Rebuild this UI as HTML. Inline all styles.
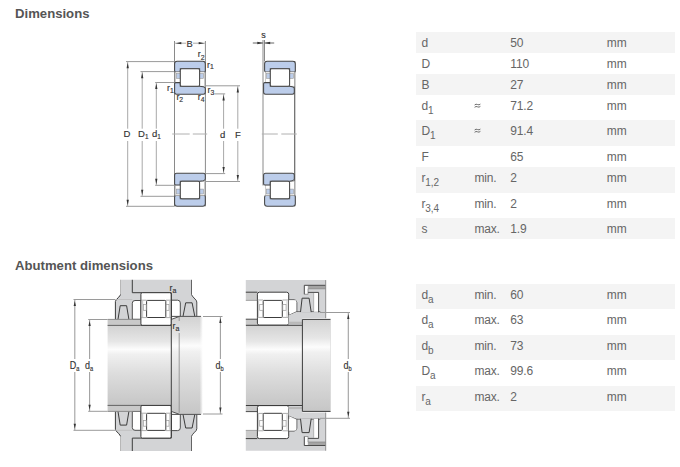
<!DOCTYPE html>
<html><head><meta charset="utf-8">
<style>
html,body{margin:0;padding:0;background:#fff;}
body{width:680px;height:467px;position:relative;overflow:hidden;font-family:"Liberation Sans",sans-serif;}
h2{position:absolute;margin:0;font-size:13.15px;font-weight:bold;color:#555;line-height:15px;}
.tbl{position:absolute;left:416px;width:259px;}
.r{position:absolute;left:0;width:259px;font-size:12px;color:#666;letter-spacing:-0.15px;}
.r.s{background:#f4f4f4;}
.r span{position:absolute;white-space:nowrap;}
.c1{left:5.5px}.c2{left:58.4px}.c3{left:94.3px}.c4{left:190.8px}
sub{font-size:10px;vertical-align:baseline;position:relative;top:3.5px;}
svg.main{position:absolute;left:0;top:0;}
.apx{position:absolute;left:0;top:7.6px;}
</style></head><body>
<h2 style="left:15px;top:5.6px">Dimensions</h2>
<h2 style="left:15px;top:257.6px">Abutment dimensions</h2>

<div class="tbl" style="top:32px">
 <div class="r s" style="top:0;height:21px;line-height:23px"><span class="c1">d</span><span class="c3">50</span><span class="c4">mm</span></div>
 <div class="r" style="top:21px;height:21px;line-height:23px"><span class="c1">D</span><span class="c3">110</span><span class="c4">mm</span></div>
 <div class="r s" style="top:42px;height:21px;line-height:23px"><span class="c1">B</span><span class="c3">27</span><span class="c4">mm</span></div>
 <div class="r" style="top:63px;height:25px;line-height:23px"><span class="c1">d<sub>1</sub></span><span class="c2"><svg class="apx" width="7" height="6" viewBox="0 0 7 6"><path d="M0.6,2 Q2,0.6 3.5,1.5 T6.4,1.1 M0.6,4.3 Q2,2.9 3.5,3.8 T6.4,3.4" fill="none" stroke="#666" stroke-width="0.95"/></svg></span><span class="c3">71.2</span><span class="c4">mm</span></div>
 <div class="r s" style="top:88px;height:26px;line-height:23px"><span class="c1">D<sub>1</sub></span><span class="c2"><svg class="apx" width="7" height="6" viewBox="0 0 7 6"><path d="M0.6,2 Q2,0.6 3.5,1.5 T6.4,1.1 M0.6,4.3 Q2,2.9 3.5,3.8 T6.4,3.4" fill="none" stroke="#666" stroke-width="0.95"/></svg></span><span class="c3">91.4</span><span class="c4">mm</span></div>
 <div class="r" style="top:114px;height:21px;line-height:23px"><span class="c1">F</span><span class="c3">65</span><span class="c4">mm</span></div>
 <div class="r s" style="top:135px;height:26px;line-height:23px"><span class="c1">r<sub>1,2</sub></span><span class="c2">min.</span><span class="c3">2</span><span class="c4">mm</span></div>
 <div class="r" style="top:161px;height:25px;line-height:23px"><span class="c1">r<sub>3,4</sub></span><span class="c2">min.</span><span class="c3">2</span><span class="c4">mm</span></div>
 <div class="r s" style="top:186px;height:21px;line-height:23px"><span class="c1">s</span><span class="c2">max.</span><span class="c3">1.9</span><span class="c4">mm</span></div>
</div>

<div class="tbl" style="top:284px">
 <div class="r s" style="top:0;height:25px;line-height:23px"><span class="c1">d<sub>a</sub></span><span class="c2">min.</span><span class="c3">60</span><span class="c4">mm</span></div>
 <div class="r" style="top:25px;height:26px;line-height:23px"><span class="c1">d<sub>a</sub></span><span class="c2">max.</span><span class="c3">63</span><span class="c4">mm</span></div>
 <div class="r s" style="top:51px;height:25px;line-height:23px"><span class="c1">d<sub>b</sub></span><span class="c2">min.</span><span class="c3">73</span><span class="c4">mm</span></div>
 <div class="r" style="top:76px;height:26px;line-height:23px"><span class="c1">D<sub>a</sub></span><span class="c2">max.</span><span class="c3">99.6</span><span class="c4">mm</span></div>
 <div class="r s" style="top:102px;height:25px;line-height:23px"><span class="c1">r<sub>a</sub></span><span class="c2">max.</span><span class="c3">2</span><span class="c4">mm</span></div>
</div>

<svg class="main" width="680" height="467" viewBox="0 0 680 467" font-family="Liberation Sans, sans-serif">
<line x1="174.5" y1="41" x2="174.5" y2="206.3" stroke="#8a8a8a" stroke-width="1" />
<line x1="205.4" y1="41" x2="205.4" y2="206.3" stroke="#8a8a8a" stroke-width="1" />
<line x1="263" y1="40" x2="263" y2="185.5" stroke="#8a8a8a" stroke-width="1" />
<line x1="294.7" y1="61" x2="294.7" y2="206.3" stroke="#666" stroke-width="1.2" />
<line x1="264.5" y1="40" x2="264.5" y2="61.3" stroke="#8a8a8a" stroke-width="1" />
<line x1="172.2" y1="134" x2="189.7" y2="134" stroke="#b0b0b0" stroke-width="1" />
<line x1="192.8" y1="134" x2="207.2" y2="134" stroke="#b0b0b0" stroke-width="1" />
<line x1="261.8" y1="134" x2="277.8" y2="134" stroke="#b0b0b0" stroke-width="1" />
<line x1="281.3" y1="134" x2="296.8" y2="134" stroke="#b0b0b0" stroke-width="1" />
<line x1="174.5" y1="43.2" x2="186" y2="43.2" stroke="#aaa" stroke-width="1" />
<line x1="193" y1="43.2" x2="205.4" y2="43.2" stroke="#aaa" stroke-width="1" />
<polygon points="175.8,43.2 181.3,42.05 181.3,44.35" fill="#333"/>
<polygon points="204.2,43.2 198.7,42.05 198.7,44.35" fill="#333"/>
<text x="189.6" y="46.6" font-size="9.3" fill="#333" stroke="#333" stroke-width="0.15" text-anchor="middle">B</text>
<line x1="252.8" y1="43" x2="263" y2="43" stroke="#666" stroke-width="1" />
<line x1="264.5" y1="43" x2="274.2" y2="43" stroke="#666" stroke-width="1" />
<polygon points="262.8,43 257.3,41.85 257.3,44.15" fill="#333"/>
<polygon points="264.7,43 270.2,41.85 270.2,44.15" fill="#333"/>
<text x="263.5" y="37.5" font-size="9" fill="#333" stroke="#333" stroke-width="0.15" text-anchor="middle">s</text>
<line x1="126" y1="61.6" x2="174.5" y2="61.6" stroke="#9a9a9a" stroke-width="1" />
<line x1="126" y1="206.3" x2="174.5" y2="206.3" stroke="#9a9a9a" stroke-width="1" />
<line x1="127.7" y1="61.6" x2="127.7" y2="128.7" stroke="#a8a8a8" stroke-width="1" />
<line x1="127.7" y1="141" x2="127.7" y2="206.3" stroke="#a8a8a8" stroke-width="1" />
<polygon points="127.7,62.7 126.55,68.2 128.85,68.2" fill="#333"/>
<polygon points="127.7,205.2 126.55,199.7 128.85,199.7" fill="#333"/>
<line x1="140.5" y1="71.6" x2="174.5" y2="71.6" stroke="#9a9a9a" stroke-width="1" />
<line x1="140.5" y1="196.3" x2="174.5" y2="196.3" stroke="#9a9a9a" stroke-width="1" />
<line x1="142.2" y1="71.6" x2="142.2" y2="128.7" stroke="#a8a8a8" stroke-width="1" />
<line x1="142.2" y1="141" x2="142.2" y2="196.3" stroke="#a8a8a8" stroke-width="1" />
<polygon points="142.2,72.7 141.05,78.2 143.35,78.2" fill="#333"/>
<polygon points="142.2,195.2 141.05,189.7 143.35,189.7" fill="#333"/>
<line x1="155.2" y1="82.5" x2="174.5" y2="82.5" stroke="#9a9a9a" stroke-width="1" />
<line x1="155.2" y1="185.3" x2="174.5" y2="185.3" stroke="#9a9a9a" stroke-width="1" />
<line x1="156.3" y1="82.5" x2="156.3" y2="128.7" stroke="#a8a8a8" stroke-width="1" />
<line x1="156.3" y1="141" x2="156.3" y2="185.3" stroke="#a8a8a8" stroke-width="1" />
<polygon points="156.3,83.6 155.15,89.1 157.45,89.1" fill="#333"/>
<polygon points="156.3,184.2 155.15,178.7 157.45,178.7" fill="#333"/>
<text x="123.6" y="137.1" font-size="9.5" fill="#333" stroke="#333" stroke-width="0.15" text-anchor="start">D</text>
<text x="138" y="137.1" font-size="9.5" fill="#333" stroke="#333" stroke-width="0.15">D<tspan font-size="6.4" dy="1.9">1</tspan></text>
<text x="152" y="137.1" font-size="9.5" fill="#333" stroke="#333" stroke-width="0.15">d<tspan font-size="6.4" dy="1.9">1</tspan></text>
<line x1="214.5" y1="93.9" x2="225.2" y2="93.9" stroke="#9a9a9a" stroke-width="1" />
<line x1="205.4" y1="173.6" x2="225.2" y2="173.6" stroke="#9a9a9a" stroke-width="1" />
<line x1="223.6" y1="93.9" x2="223.6" y2="128.7" stroke="#a8a8a8" stroke-width="1" />
<line x1="223.6" y1="141" x2="223.6" y2="173.6" stroke="#a8a8a8" stroke-width="1" />
<polygon points="223.6,95 222.45,100.5 224.75,100.5" fill="#333"/>
<polygon points="223.6,172.5 222.45,167 224.75,167" fill="#333"/>
<line x1="205.4" y1="85.8" x2="240" y2="85.8" stroke="#9a9a9a" stroke-width="1" />
<line x1="205.4" y1="181.5" x2="240" y2="181.5" stroke="#9a9a9a" stroke-width="1" />
<line x1="237.8" y1="85.8" x2="237.8" y2="128.7" stroke="#a8a8a8" stroke-width="1" />
<line x1="237.8" y1="141" x2="237.8" y2="181.5" stroke="#a8a8a8" stroke-width="1" />
<polygon points="237.8,86.9 236.65,92.4 238.95,92.4" fill="#333"/>
<polygon points="237.8,180.4 236.65,174.9 238.95,174.9" fill="#333"/>
<text x="219.9" y="137.9" font-size="9.5" fill="#333" stroke="#333" stroke-width="0.15" text-anchor="start">d</text>
<text x="234.9" y="137.9" font-size="9.5" fill="#333" stroke="#333" stroke-width="0.15" text-anchor="start">F</text>
<g><path d="M174.6,63.8 Q174.6,61.3 177.1,61.3 L202.8,61.3 Q205.3,61.3 205.3,63.8 L205.3,71 Q205.3,72 204.3,72 L199.6,72 L199.6,68.7 L180.3,68.7 L180.3,72 L176.1,72 Q174.6,72 174.6,70.5 Z" fill="#bccdea" stroke="#464646" stroke-width="1.05"/>
<rect x="175.5" y="72" width="4.8" height="10.6" fill="#fff" stroke="#aaa" stroke-width="0.6"/>
<rect x="199.6" y="72" width="4.8" height="14.2" fill="#fff" stroke="#aaa" stroke-width="0.6"/>
<rect x="176.5" y="73.5" width="3.8" height="4.9" fill="#bccdea" stroke="#999" stroke-width="0.6"/>
<rect x="199.6" y="73.5" width="3.8" height="4.9" fill="#bccdea" stroke="#999" stroke-width="0.6"/>
<path d="M174.6,83.8 Q174.6,82.6 175.8,82.6 L180.3,82.6 L180.3,86.2 L199.6,86.2 L203.3,86.8 Q205.3,87.2 205.3,88.4 L205.3,92.2 Q205.3,94.2 203.3,94.2 L176.6,94.2 Q174.6,94.2 174.6,92.2 Z" fill="#bccdea" stroke="#464646" stroke-width="1.05"/>
<rect x="180.3" y="68.7" width="19.3" height="17.5" rx="1.5" fill="#fff" stroke="#464646" stroke-width="1.05"/></g>
<g transform="matrix(1,0,0,-1,0,267.5)"><path d="M174.6,63.8 Q174.6,61.3 177.1,61.3 L202.8,61.3 Q205.3,61.3 205.3,63.8 L205.3,71 Q205.3,72 204.3,72 L199.6,72 L199.6,68.7 L180.3,68.7 L180.3,72 L176.1,72 Q174.6,72 174.6,70.5 Z" fill="#bccdea" stroke="#464646" stroke-width="1.05"/>
<rect x="175.5" y="72" width="4.8" height="10.6" fill="#fff" stroke="#aaa" stroke-width="0.6"/>
<rect x="199.6" y="72" width="4.8" height="14.2" fill="#fff" stroke="#aaa" stroke-width="0.6"/>
<rect x="176.5" y="73.5" width="3.8" height="4.9" fill="#bccdea" stroke="#999" stroke-width="0.6"/>
<rect x="199.6" y="73.5" width="3.8" height="4.9" fill="#bccdea" stroke="#999" stroke-width="0.6"/>
<path d="M174.6,83.8 Q174.6,82.6 175.8,82.6 L180.3,82.6 L180.3,86.2 L199.6,86.2 L203.3,86.8 Q205.3,87.2 205.3,88.4 L205.3,92.2 Q205.3,94.2 203.3,94.2 L176.6,94.2 Q174.6,94.2 174.6,92.2 Z" fill="#bccdea" stroke="#464646" stroke-width="1.05"/>
<rect x="180.3" y="68.7" width="19.3" height="17.5" rx="1.5" fill="#fff" stroke="#464646" stroke-width="1.05"/></g>
<g><path d="M264.6,63.8 Q264.6,61.3 267.1,61.3 L292.8,61.3 Q295.3,61.3 295.3,63.8 L295.3,71 Q295.3,72 294.3,72 L289.6,72 L289.6,68.7 L270.3,68.7 L270.3,72 L266.1,72 Q264.6,72 264.6,70.5 Z" fill="#bccdea" stroke="#464646" stroke-width="1.05"/>
<rect x="265.5" y="72" width="4.8" height="10.6" fill="#fff" stroke="#aaa" stroke-width="0.6"/>
<rect x="289.6" y="72" width="4.8" height="14.2" fill="#fff" stroke="#aaa" stroke-width="0.6"/>
<rect x="266.5" y="73.5" width="3.8" height="4.9" fill="#bccdea" stroke="#999" stroke-width="0.6"/>
<rect x="289.6" y="73.5" width="3.8" height="4.9" fill="#bccdea" stroke="#999" stroke-width="0.6"/>
<path d="M263.6,83.8 Q263.6,82.6 264.8,82.6 L270.3,82.6 L270.3,86.2 L289.6,86.2 L292.3,86.8 Q294.3,87.2 294.3,88.4 L294.3,92.2 Q294.3,94.2 292.3,94.2 L265.6,94.2 Q263.6,94.2 263.6,92.2 Z" fill="#bccdea" stroke="#464646" stroke-width="1.05"/>
<rect x="270.3" y="68.7" width="19.3" height="17.5" rx="1.5" fill="#fff" stroke="#464646" stroke-width="1.05"/></g>
<g transform="matrix(1,0,0,-1,0,267.5)"><path d="M264.6,63.8 Q264.6,61.3 267.1,61.3 L292.8,61.3 Q295.3,61.3 295.3,63.8 L295.3,71 Q295.3,72 294.3,72 L289.6,72 L289.6,68.7 L270.3,68.7 L270.3,72 L266.1,72 Q264.6,72 264.6,70.5 Z" fill="#bccdea" stroke="#464646" stroke-width="1.05"/>
<rect x="265.5" y="72" width="4.8" height="10.6" fill="#fff" stroke="#aaa" stroke-width="0.6"/>
<rect x="289.6" y="72" width="4.8" height="14.2" fill="#fff" stroke="#aaa" stroke-width="0.6"/>
<rect x="266.5" y="73.5" width="3.8" height="4.9" fill="#bccdea" stroke="#999" stroke-width="0.6"/>
<rect x="289.6" y="73.5" width="3.8" height="4.9" fill="#bccdea" stroke="#999" stroke-width="0.6"/>
<path d="M263.6,83.8 Q263.6,82.6 264.8,82.6 L270.3,82.6 L270.3,86.2 L289.6,86.2 L292.3,86.8 Q294.3,87.2 294.3,88.4 L294.3,92.2 Q294.3,94.2 292.3,94.2 L265.6,94.2 Q263.6,94.2 263.6,92.2 Z" fill="#bccdea" stroke="#464646" stroke-width="1.05"/>
<rect x="270.3" y="68.7" width="19.3" height="17.5" rx="1.5" fill="#fff" stroke="#464646" stroke-width="1.05"/></g>
<text x="197.8" y="57" font-size="8.8" fill="#333" stroke="#333" stroke-width="0.15">r<tspan font-size="6.8" dy="2.6">2</tspan></text>
<text x="207" y="67.5" font-size="8.8" fill="#333" stroke="#333" stroke-width="0.15">r<tspan font-size="6.8" dy="1.6">1</tspan></text>
<text x="167" y="90.6" font-size="8.8" fill="#333" stroke="#333" stroke-width="0.15">r<tspan font-size="6.8" dy="2.3">1</tspan></text>
<text x="176.4" y="99.8" font-size="8.8" fill="#333" stroke="#333" stroke-width="0.15">r<tspan font-size="6.8" dy="2.4">2</tspan></text>
<text x="197.8" y="99.8" font-size="8.8" fill="#333" stroke="#333" stroke-width="0.15">r<tspan font-size="6.8" dy="2.4">4</tspan></text>
<text x="207.5" y="93" font-size="8.8" fill="#333" stroke="#333" stroke-width="0.15">r<tspan font-size="6.8" dy="1.9">3</tspan></text>
<g>
<polygon points="120.5,279.8 191.5,279.8 191.5,294.5 196.8,300.4 196.8,316.4 171.3,316.4 171.3,292.7 140.9,292.7 140.9,319.3 115.4,319.3 115.4,300.3 120.5,294.5" fill="#d3d4d6" stroke="none" stroke-width="1"/>
<line x1="120.5" y1="279.8" x2="120.5" y2="294.5" stroke="#aaa" stroke-width="0.8"/>
<line x1="191.5" y1="279.8" x2="191.5" y2="294.5" stroke="#555" stroke-width="0.9"/>
<path d="M120.5,294.5 Q120.3,295.6 118.5,297.4 Q115.4,300.3 115.4,301.5 L115.4,319.3" fill="none" stroke="#3c3c3c" stroke-width="1" />
<path d="M191.5,294.5 Q192,296 194,298 Q196.8,300.4 196.8,302 L196.8,316.4" fill="none" stroke="#3c3c3c" stroke-width="0.9" />
<path d="M132.3,279.8 L132.3,292.7 L171.3,292.7" fill="none" stroke="#3c3c3c" stroke-width="1" />
<path d="M140.9,300.5 L135,300.5 Q132.3,300.5 132.3,303.2 L132.3,319.3 L140.9,319.3 Z" fill="#fff" stroke="#3c3c3c" stroke-width="0.9" />
<path d="M171.3,300.2 L177.6,300.2 Q180.3,300.2 180.3,302.9 L180.3,316.4 L171.3,316.4 Z" fill="#fff" stroke="#3c3c3c" stroke-width="0.9" />
<path d="M118,319.3 L120.2,305.7 L126.6,305.7 L128.9,319.3" fill="#d3d4d6" stroke="#3c3c3c" stroke-width="1" />
<path d="M183,316.4 L185.7,302.8 L192.1,302.8 L194.8,316.4" fill="#d3d4d6" stroke="#3c3c3c" stroke-width="1" />
<rect x="107.6" y="319.4" width="33.3" height="6" fill="#c9c9c9"/>
<line x1="107.6" y1="319.4" x2="140.9" y2="319.4" stroke="#777" stroke-width="0.8"/>
<rect x="140.9" y="292.7" width="30.4" height="32.7" rx="1.5" fill="#fff" stroke="#3c3c3c" stroke-width="1"/>
<rect x="146.6" y="300.4" width="19.2" height="17.1" rx="0.9" fill="#fff" stroke="#3c3c3c" stroke-width="1"/>
<line x1="140.9" y1="300.2" x2="146.6" y2="300.2" stroke="#888" stroke-width="0.7"/>
<line x1="166" y1="300.2" x2="171.3" y2="300.2" stroke="#888" stroke-width="0.7"/>
<line x1="140.9" y1="317.6" x2="146.6" y2="317.6" stroke="#888" stroke-width="0.7"/>
<line x1="166" y1="317.6" x2="171.3" y2="317.6" stroke="#888" stroke-width="0.7"/>
<rect x="143.6" y="304.6" width="2.6" height="5.7" fill="#fff" stroke="#999" stroke-width="0.7"/>
<rect x="166.2" y="304.6" width="2.8" height="5.7" fill="#fff" stroke="#999" stroke-width="0.7"/>
<line x1="142.7" y1="301" x2="142.7" y2="317.6" stroke="#bbb" stroke-width="0.9"/>
<line x1="169.8" y1="301" x2="169.8" y2="317.6" stroke="#bbb" stroke-width="0.9"/>
</g>
<g transform="matrix(1,0,0,-1,0,730.8)"><polygon points="120.5,279.8 191.5,279.8 191.5,294.5 196.8,300.4 196.8,316.4 171.3,316.4 171.3,292.7 140.9,292.7 140.9,319.3 115.4,319.3 115.4,300.3 120.5,294.5" fill="#d3d4d6" stroke="none" stroke-width="1"/>
<line x1="120.5" y1="279.8" x2="120.5" y2="294.5" stroke="#aaa" stroke-width="0.8"/>
<line x1="191.5" y1="279.8" x2="191.5" y2="294.5" stroke="#555" stroke-width="0.9"/>
<path d="M120.5,294.5 Q120.3,295.6 118.5,297.4 Q115.4,300.3 115.4,301.5 L115.4,319.3" fill="none" stroke="#3c3c3c" stroke-width="1" />
<path d="M191.5,294.5 Q192,296 194,298 Q196.8,300.4 196.8,302 L196.8,316.4" fill="none" stroke="#3c3c3c" stroke-width="0.9" />
<path d="M132.3,279.8 L132.3,292.7 L171.3,292.7" fill="none" stroke="#3c3c3c" stroke-width="1" />
<path d="M140.9,300.5 L135,300.5 Q132.3,300.5 132.3,303.2 L132.3,319.3 L140.9,319.3 Z" fill="#fff" stroke="#3c3c3c" stroke-width="0.9" />
<path d="M171.3,300.2 L177.6,300.2 Q180.3,300.2 180.3,302.9 L180.3,316.4 L171.3,316.4 Z" fill="#fff" stroke="#3c3c3c" stroke-width="0.9" />
<path d="M118,319.3 L120.2,305.7 L126.6,305.7 L128.9,319.3" fill="#d3d4d6" stroke="#3c3c3c" stroke-width="1" />
<path d="M183,316.4 L185.7,302.8 L192.1,302.8 L194.8,316.4" fill="#d3d4d6" stroke="#3c3c3c" stroke-width="1" />
<rect x="107.6" y="319.4" width="33.3" height="6" fill="#c9c9c9"/>
<line x1="107.6" y1="319.4" x2="140.9" y2="319.4" stroke="#777" stroke-width="0.8"/>
<rect x="140.9" y="292.7" width="30.4" height="32.7" rx="1.5" fill="#fff" stroke="#3c3c3c" stroke-width="1"/>
<rect x="146.6" y="300.4" width="19.2" height="17.1" rx="0.9" fill="#fff" stroke="#3c3c3c" stroke-width="1"/>
<line x1="140.9" y1="300.2" x2="146.6" y2="300.2" stroke="#888" stroke-width="0.7"/>
<line x1="166" y1="300.2" x2="171.3" y2="300.2" stroke="#888" stroke-width="0.7"/>
<line x1="140.9" y1="317.6" x2="146.6" y2="317.6" stroke="#888" stroke-width="0.7"/>
<line x1="166" y1="317.6" x2="171.3" y2="317.6" stroke="#888" stroke-width="0.7"/>
<rect x="143.6" y="304.6" width="2.6" height="5.7" fill="#fff" stroke="#999" stroke-width="0.7"/>
<rect x="166.2" y="304.6" width="2.8" height="5.7" fill="#fff" stroke="#999" stroke-width="0.7"/>
<line x1="142.7" y1="301" x2="142.7" y2="317.6" stroke="#bbb" stroke-width="0.9"/>
<line x1="169.8" y1="301" x2="169.8" y2="317.6" stroke="#bbb" stroke-width="0.9"/></g>
<defs><linearGradient id="sh" x1="0" y1="0" x2="0" y2="1"><stop offset="0" stop-color="#d2d2d2"/><stop offset="0.2" stop-color="#e6e6e6"/><stop offset="0.3" stop-color="#fcfcfc"/><stop offset="0.36" stop-color="#f0f0f0"/><stop offset="0.6" stop-color="#dddddd"/><stop offset="1" stop-color="#c6c6c6"/></linearGradient><linearGradient id="fadeR" x1="0" y1="0" x2="1" y2="0"><stop offset="0" stop-color="#fff" stop-opacity="0"/><stop offset="1" stop-color="#fff" stop-opacity="1"/></linearGradient></defs>
<rect x="107.6" y="325.4" width="63.7" height="80" fill="url(#sh)"/>
<line x1="140.9" y1="325.4" x2="171.3" y2="325.4" stroke="#3c3c3c" stroke-width="1"/>
<line x1="107.6" y1="325.4" x2="140.9" y2="325.4" stroke="#555" stroke-width="0.9"/>
<line x1="140.9" y1="405.4" x2="171.3" y2="405.4" stroke="#3c3c3c" stroke-width="1"/>
<line x1="107.6" y1="405.4" x2="140.9" y2="405.4" stroke="#555" stroke-width="0.9"/>
<polygon points="171.3,319.4 179.6,316.4 202.6,316.4 202.6,414.4 179.6,414.4 171.3,411.4" fill="url(#sh)"/>
<rect x="199.5" y="316" width="3.6" height="98.8" fill="url(#fadeR)"/>
<path d="M171.3,319.4 L179.6,316.4 L201,316.4" fill="none" stroke="#444" stroke-width="0.9" />
<path d="M171.3,411.4 L179.6,414.4 L201,414.4" fill="none" stroke="#444" stroke-width="0.9" />
<line x1="171.3" y1="292.7" x2="171.3" y2="438.1" stroke="#3c3c3c" stroke-width="1"/>
<line x1="179.2" y1="333" x2="179.2" y2="412.8" stroke="#888" stroke-width="0.8"/>
<line x1="179.2" y1="317" x2="179.2" y2="321" stroke="#888" stroke-width="0.8"/>
<g>
<polygon points="245.8,280.1 325.7,280.1 325.7,318.2 302.1,318.2 302.1,319.4 296.8,319.4 296.8,312.1 288.7,312.1 288.7,292.2 245.8,292.2" fill="#d3d4d6" stroke="none" stroke-width="1"/>
<rect x="245.8" y="292.2" width="11.6" height="8.2" fill="#cbcbcb"/>
<line x1="245.8" y1="292.2" x2="257.4" y2="292.2" stroke="#3c3c3c" stroke-width="1"/>
<line x1="245.8" y1="300.4" x2="257.4" y2="300.4" stroke="#888" stroke-width="0.7"/>
<rect x="245.8" y="319.2" width="11.6" height="6" fill="#c9c9c9"/>
<line x1="245.8" y1="319.2" x2="257.4" y2="319.2" stroke="#3c3c3c" stroke-width="0.9"/>
<rect x="257.4" y="292.2" width="31.3" height="33" rx="2" fill="#fff" stroke="#3c3c3c" stroke-width="1"/>
<rect x="263.2" y="300.4" width="19.1" height="17.1" rx="0.9" fill="#fff" stroke="#3c3c3c" stroke-width="1"/>
<line x1="257.4" y1="300" x2="263.2" y2="300" stroke="#888" stroke-width="0.7"/>
<line x1="282.5" y1="300" x2="288.7" y2="300" stroke="#888" stroke-width="0.7"/>
<line x1="257.4" y1="317.4" x2="263.2" y2="317.4" stroke="#888" stroke-width="0.7"/>
<line x1="282.5" y1="317.4" x2="288.7" y2="317.4" stroke="#888" stroke-width="0.7"/>
<rect x="259.7" y="304.6" width="3.3" height="5.7" fill="#fff" stroke="#999" stroke-width="0.7"/>
<rect x="282.8" y="304.6" width="3.3" height="5.7" fill="#fff" stroke="#999" stroke-width="0.7"/>
<line x1="258.6" y1="301" x2="258.6" y2="317.6" stroke="#c4c4c4" stroke-width="0.9"/>
<line x1="287" y1="301" x2="287" y2="317.6" stroke="#c4c4c4" stroke-width="0.9"/>
<path d="M288.7,299.8 L294,299.8 Q296.8,299.8 296.8,302.6 L296.8,312.1" fill="#fff" stroke="#3c3c3c" stroke-width="0.9" />
<rect x="288.9" y="300.3" width="7.4" height="11.8" fill="#fff"/>
<path d="M288.7,315.3 L296.8,311.6 L320.3,311.6" fill="none" stroke="#555" stroke-width="0.8" />
<path d="M300.5,312.1 L302.1,298.2 L309.1,298.2 L311.2,312.1" fill="#d3d4d6" stroke="#3c3c3c" stroke-width="1" />
<rect x="308.1" y="285.6" width="17.4" height="3.1" fill="#a4a4a4"/>
<rect x="304.8" y="285.8" width="2.8" height="8" fill="#fff"/>
<rect x="313.9" y="292.9" width="4.3" height="18.9" fill="#fff"/>
<path d="M304.3,294.3 L304.3,285.3 L325.5,285.3" fill="none" stroke="#3c3c3c" stroke-width="0.9" />
<path d="M304.3,294.3 L308.1,294.3 L308.1,288.8 L325.5,288.8" fill="none" stroke="#777" stroke-width="0.6" />
<path d="M308.1,292.4 L318.6,292.4 L318.6,312.3" fill="none" stroke="#3c3c3c" stroke-width="0.9" />
<line x1="313.7" y1="293" x2="313.7" y2="311.4" stroke="#999" stroke-width="0.6"/>
<polygon points="288.6,315.3 296.7,312.5 302.3,312.5 302.3,325.1 288.6,325.1" fill="#d3d4d6" stroke="none" stroke-width="1"/>
<rect x="288.6" y="321.7" width="13.7" height="2.2" fill="#b9b9b9"/>
<line x1="325.7" y1="280.1" x2="325.7" y2="318.2" stroke="#777" stroke-width="0.8"/>
</g>
<g transform="matrix(1,0,0,-1,0,730.8)"><polygon points="245.8,280.1 325.7,280.1 325.7,318.2 302.1,318.2 302.1,319.4 296.8,319.4 296.8,312.1 288.7,312.1 288.7,292.2 245.8,292.2" fill="#d3d4d6" stroke="none" stroke-width="1"/>
<rect x="245.8" y="292.2" width="11.6" height="8.2" fill="#cbcbcb"/>
<line x1="245.8" y1="292.2" x2="257.4" y2="292.2" stroke="#3c3c3c" stroke-width="1"/>
<line x1="245.8" y1="300.4" x2="257.4" y2="300.4" stroke="#888" stroke-width="0.7"/>
<rect x="245.8" y="319.2" width="11.6" height="6" fill="#c9c9c9"/>
<line x1="245.8" y1="319.2" x2="257.4" y2="319.2" stroke="#3c3c3c" stroke-width="0.9"/>
<rect x="257.4" y="292.2" width="31.3" height="33" rx="2" fill="#fff" stroke="#3c3c3c" stroke-width="1"/>
<rect x="263.2" y="300.4" width="19.1" height="17.1" rx="0.9" fill="#fff" stroke="#3c3c3c" stroke-width="1"/>
<line x1="257.4" y1="300" x2="263.2" y2="300" stroke="#888" stroke-width="0.7"/>
<line x1="282.5" y1="300" x2="288.7" y2="300" stroke="#888" stroke-width="0.7"/>
<line x1="257.4" y1="317.4" x2="263.2" y2="317.4" stroke="#888" stroke-width="0.7"/>
<line x1="282.5" y1="317.4" x2="288.7" y2="317.4" stroke="#888" stroke-width="0.7"/>
<rect x="259.7" y="304.6" width="3.3" height="5.7" fill="#fff" stroke="#999" stroke-width="0.7"/>
<rect x="282.8" y="304.6" width="3.3" height="5.7" fill="#fff" stroke="#999" stroke-width="0.7"/>
<line x1="258.6" y1="301" x2="258.6" y2="317.6" stroke="#c4c4c4" stroke-width="0.9"/>
<line x1="287" y1="301" x2="287" y2="317.6" stroke="#c4c4c4" stroke-width="0.9"/>
<path d="M288.7,299.8 L294,299.8 Q296.8,299.8 296.8,302.6 L296.8,312.1" fill="#fff" stroke="#3c3c3c" stroke-width="0.9" />
<rect x="288.9" y="300.3" width="7.4" height="11.8" fill="#fff"/>
<path d="M288.7,315.3 L296.8,311.6 L320.3,311.6" fill="none" stroke="#555" stroke-width="0.8" />
<path d="M300.5,312.1 L302.1,298.2 L309.1,298.2 L311.2,312.1" fill="#d3d4d6" stroke="#3c3c3c" stroke-width="1" />
<rect x="308.1" y="285.6" width="17.4" height="3.1" fill="#a4a4a4"/>
<rect x="304.8" y="285.8" width="2.8" height="8" fill="#fff"/>
<rect x="313.9" y="292.9" width="4.3" height="18.9" fill="#fff"/>
<path d="M304.3,294.3 L304.3,285.3 L325.5,285.3" fill="none" stroke="#3c3c3c" stroke-width="0.9" />
<path d="M304.3,294.3 L308.1,294.3 L308.1,288.8 L325.5,288.8" fill="none" stroke="#777" stroke-width="0.6" />
<path d="M308.1,292.4 L318.6,292.4 L318.6,312.3" fill="none" stroke="#3c3c3c" stroke-width="0.9" />
<line x1="313.7" y1="293" x2="313.7" y2="311.4" stroke="#999" stroke-width="0.6"/>
<polygon points="288.6,315.3 296.7,312.5 302.3,312.5 302.3,325.1 288.6,325.1" fill="#d3d4d6" stroke="none" stroke-width="1"/>
<rect x="288.6" y="321.7" width="13.7" height="2.2" fill="#b9b9b9"/>
<line x1="325.7" y1="280.1" x2="325.7" y2="318.2" stroke="#777" stroke-width="0.8"/></g>
<rect x="245.9" y="325.3" width="56.5" height="80.2" fill="url(#sh)"/>
<line x1="245.9" y1="325.3" x2="302.4" y2="325.3" stroke="#3c3c3c" stroke-width="1"/>
<line x1="245.9" y1="405.5" x2="302.4" y2="405.5" stroke="#3c3c3c" stroke-width="1"/>
<rect x="302.4" y="319.4" width="28.3" height="92" fill="url(#sh)"/>
<path d="M330.7,319.4 L302.4,319.4 L302.4,411.4 L330.7,411.4" fill="none" stroke="#3c3c3c" stroke-width="1" />
<line x1="330.5" y1="319.4" x2="330.5" y2="411.4" stroke="#d8d8d8" stroke-width="0.6"/>
<line x1="73.5" y1="299.5" x2="115.4" y2="299.5" stroke="#9a9a9a" stroke-width="1"/>
<line x1="73.5" y1="430.3" x2="115.4" y2="430.3" stroke="#9a9a9a" stroke-width="1"/>
<line x1="74.8" y1="299.5" x2="74.8" y2="359" stroke="#a0a0a0" stroke-width="1.1"/>
<line x1="74.8" y1="372" x2="74.8" y2="430.3" stroke="#a0a0a0" stroke-width="1.1"/>
<polygon points="74.8,301.1 73.65,306.1 75.95,306.1" fill="#333" stroke="none" stroke-width="1"/>
<polygon points="74.8,428.7 73.65,423.7 75.95,423.7" fill="#333" stroke="none" stroke-width="1"/>
<line x1="115.4" y1="299.5" x2="132.3" y2="299.5" stroke="#bdbdbd" stroke-width="0.8"/>
<line x1="115.4" y1="430.3" x2="132.3" y2="430.3" stroke="#bdbdbd" stroke-width="0.8"/>
<line x1="88.2" y1="319.5" x2="107.6" y2="319.5" stroke="#9a9a9a" stroke-width="1"/>
<line x1="88.2" y1="411.3" x2="107.6" y2="411.3" stroke="#9a9a9a" stroke-width="1"/>
<line x1="89.6" y1="319.5" x2="89.6" y2="359" stroke="#a0a0a0" stroke-width="1.1"/>
<line x1="89.6" y1="372" x2="89.6" y2="411.3" stroke="#a0a0a0" stroke-width="1.1"/>
<polygon points="89.6,321.1 88.45,326.1 90.75,326.1" fill="#333" stroke="none" stroke-width="1"/>
<polygon points="89.6,409.7 88.45,404.7 90.75,404.7" fill="#333" stroke="none" stroke-width="1"/>
<line x1="203" y1="316.5" x2="222.5" y2="316.5" stroke="#9a9a9a" stroke-width="1"/>
<line x1="203" y1="414" x2="222.5" y2="414" stroke="#9a9a9a" stroke-width="1"/>
<line x1="220.4" y1="316.5" x2="220.4" y2="359" stroke="#a0a0a0" stroke-width="1.1"/>
<line x1="220.4" y1="372" x2="220.4" y2="414" stroke="#a0a0a0" stroke-width="1.1"/>
<polygon points="220.4,318.1 219.25,323.1 221.55,323.1" fill="#333" stroke="none" stroke-width="1"/>
<polygon points="220.4,412.4 219.25,407.4 221.55,407.4" fill="#333" stroke="none" stroke-width="1"/>
<line x1="320" y1="312.5" x2="350" y2="312.5" stroke="#9a9a9a" stroke-width="1"/>
<line x1="320" y1="418.3" x2="350" y2="418.3" stroke="#9a9a9a" stroke-width="1"/>
<line x1="348.3" y1="312.5" x2="348.3" y2="359" stroke="#a0a0a0" stroke-width="1.1"/>
<line x1="348.3" y1="372" x2="348.3" y2="418.3" stroke="#a0a0a0" stroke-width="1.1"/>
<polygon points="348.3,314.1 347.15,319.1 349.45,319.1" fill="#333" stroke="none" stroke-width="1"/>
<polygon points="348.3,416.7 347.15,411.7 349.45,411.7" fill="#333" stroke="none" stroke-width="1"/>
<text transform="translate(69.7,369.2) scale(0.9,1)" x="0" y="0" font-size="10" fill="#333" stroke="#333" stroke-width="0.15">D<tspan font-size="6.3" dy="1.5">a</tspan></text>
<text transform="translate(85,369.2) scale(0.9,1)" x="0" y="0" font-size="10" fill="#333" stroke="#333" stroke-width="0.15">d<tspan font-size="6.3" dy="1.5">a</tspan></text>
<text transform="translate(215.4,369.2) scale(0.9,1)" x="0" y="0" font-size="10" fill="#333" stroke="#333" stroke-width="0.15">d<tspan font-size="6.3" dy="1.5">b</tspan></text>
<text transform="translate(343.4,369.2) scale(0.9,1)" x="0" y="0" font-size="10" fill="#333" stroke="#333" stroke-width="0.15">d<tspan font-size="6.3" dy="1.5">b</tspan></text>
<text transform="translate(169.6,291.2) scale(1.0,1)" x="0" y="0" font-size="8.8" fill="#333" stroke="#333" stroke-width="0.15">r<tspan font-size="7" dy="2">a</tspan></text>
<text transform="translate(172.6,328.8) scale(1.0,1)" x="0" y="0" font-size="8.8" fill="#333" stroke="#333" stroke-width="0.15">r<tspan font-size="7" dy="2">a</tspan></text>
</svg>
</body></html>
